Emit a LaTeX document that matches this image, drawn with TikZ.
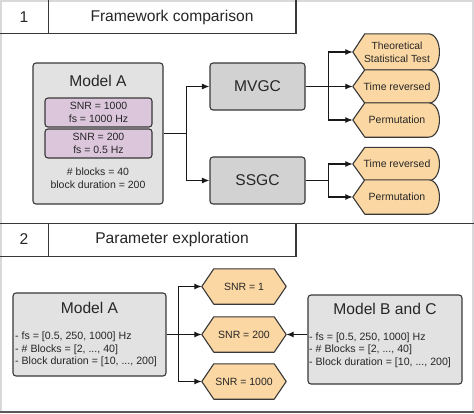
\documentclass[tikz,border=0pt]{standalone}
\usepackage{fontspec}
\setmainfont{Liberation Sans}
\usetikzlibrary{arrows.meta,backgrounds}
\definecolor{boxgray}{HTML}{E2E2E2}
\definecolor{procgray}{HTML}{D2D2D2}
\definecolor{purp}{HTML}{DCC6DC}
\definecolor{orng}{HTML}{FBD7A3}
\definecolor{edgec}{HTML}{383838}
\definecolor{framec}{HTML}{D9D9D9}
\newcommand\dispshape[1]{%
  \draw[shapeline,fill=orng] (#1.west) -- ([xshift=12pt]#1.north west) -- ([xshift=-13pt]#1.north east)
    .. controls ([xshift=2pt]#1.north east) and ([xshift=2pt]#1.south east) .. ([xshift=-13pt]#1.south east)
    -- ([xshift=12pt]#1.south west) -- cycle;}
\newcommand\hexshape[1]{%
  \draw[shapeline,fill=orng] (#1.west) -- ([xshift=12pt]#1.north west) -- ([xshift=-12pt]#1.north east)
    -- (#1.east) -- ([xshift=-12pt]#1.south east) -- ([xshift=12pt]#1.south west) -- cycle;}
\begin{document}
\begin{tikzpicture}[x=1pt,y=-1pt,
  font=\fontsize{10.5}{13}\selectfont, text=black!85,
  shapeline/.style={draw=edgec, line width=1.1pt, line join=round},
  model/.style={draw=edgec, fill=boxgray, rounded corners=3pt, line width=1.1pt, inner sep=0pt},
  proc/.style={draw=edgec, fill=procgray, rounded corners=3pt, line width=1.1pt, inner sep=0pt,
     minimum width=95pt, minimum height=47pt, font=\fontsize{15.6}{18}\selectfont},
  param/.style={draw=edgec, fill=purp, rounded corners=3pt, line width=1.1pt, inner sep=0pt,
     minimum width=107pt, minimum height=29pt, align=center},
  title/.style={font=\fontsize{15.6}{18}\selectfont, inner sep=0pt},
  disp/.style={inner sep=0pt, minimum width=88pt, align=center},
  hexn/.style={inner sep=0pt, minimum width=84pt, minimum height=35pt},
  hdrline/.style={draw=edgec, line width=1.2pt},
  conn/.style={draw=black!90, line width=1.2pt},
  arr/.style={conn, -{Latex[length=7.5pt,width=6pt]}},
]
\useasboundingbox (0,0) rectangle (474,413);
\begin{scope}[on background layer]
  \fill[white] (0,0) rectangle (474,413);
\end{scope}
% frame
\draw[framec, line width=2pt] (1,1) -- (1,412) (473,1) -- (473,412) (0,1) -- (474,1);
\fill[black!65] (0,410.5) rectangle (474,413);

% ---------- section 1 header
\draw[hdrline] (0,33.3) -- (296,33.3) -- (296,0);
\draw[hdrline] (48.3,0) -- (48.3,33.3);
\node[title] (h1n) at (24,17) {1};
\node[title] (h1t) at (172,17) {Framework comparison};

% ---------- section 1 content
\node[model, minimum width=130pt, minimum height=141pt] (mA1) at (98,133.5) {};
\node[title] (mA1t) at (98,81) {Model A};
\node[param] (p1) at (98.5,112.5) {SNR = 1000\\fs = 1000 Hz};
\node[param] (p2) at (98.5,143.5) {SNR = 200\\fs = 0.5 Hz};
\node[inner sep=0pt, align=center] (info1) at (98,178.5) {\# blocks = 40\\block duration = 200};

\node[proc] (mvgc) at (257.5,86.5) {MVGC};
\node[proc] (ssgc) at (257.5,180.5) {SSGC};

\node[disp, minimum height=36pt, font=\fontsize{10.3}{13}\selectfont] (theo) at (397,52) {Theoretical\\Statistical Test};
\node[disp, minimum height=33pt] (tr1) at (397,86.5) {Time reversed};
\node[disp, minimum height=34pt] (perm1) at (397,120) {Permutation};
\node[disp, minimum height=33pt] (tr2) at (397,164) {Time reversed};
\node[disp, minimum height=34pt] (perm2) at (397,197) {Permutation};
\begin{scope}[on background layer]
  \dispshape{theo}\dispshape{tr1}\dispshape{perm1}\dispshape{tr2}\dispshape{perm2}
\end{scope}

\draw[conn] (mA1.east) -- ++(23,0) coordinate (j1);
\draw[arr] (j1) |- (mvgc.west);
\draw[arr] (j1) |- (ssgc.west);
\draw[conn] (mvgc.east) -- ++(23,0) coordinate (j2);
\draw[arr] (j2) |- (theo.west);
\draw[arr] (j2) -- (tr1.west);
\draw[arr] (j2) |- (perm1.west);
\draw[conn] (ssgc.east) -- ++(23,0) coordinate (j3);
\draw[arr] (j3) |- (tr2.west);
\draw[arr] (j3) |- (perm2.west);

% ---------- section 2 header
\draw[hdrline] (0,223.3) -- (474,223.3);
\draw[hdrline] (0,256.3) -- (296,256.3) -- (296,223.3);
\draw[hdrline] (48.3,223.3) -- (48.3,256.3);
\node[title] (h2n) at (24,239.5) {2};
\node[title] (h2t) at (172,239.5) {Parameter exploration};

% ---------- section 2 content
\node[model, minimum width=153pt, minimum height=83pt] (mA2) at (89.5,334.5) {};
\node[title] (mA2t) at (89.5,308) {Model A};
\node[inner sep=0pt, align=left, anchor=west, font=\fontsize{10.6}{12.6}\selectfont] (info2) at (15,349.5)
  {- fs = [0.5, 250, 1000] Hz\\- \# Blocks = [2, ..., 40]\\- Block duration = [10, ..., 200]};

\node[model, minimum width=154pt, minimum height=89pt] (mBC) at (385,339.5) {};
\node[title] (mBCt) at (385,309) {Model B and C};
\node[inner sep=0pt, align=left, anchor=west, font=\fontsize{10.6}{12.6}\selectfont] (info3) at (309,350)
  {- fs = [0.5, 250, 1000] Hz\\- \# Blocks = [2, ..., 40]\\- Block duration = [10, ..., 200]};

\node[hexn] (s1) at (244,286.5) {SNR = 1};
\node[hexn] (s200) at (244,334.5) {SNR = 200};
\node[hexn] (s1000) at (244,381.5) {SNR = 1000};
\begin{scope}[on background layer]
  \hexshape{s1}\hexshape{s200}\hexshape{s1000}
\end{scope}

\draw[arr] (mA2.east) -- (s200.west);
\path (mA2.east) -- ++(12,0) coordinate (j4);
\draw[arr] (j4) |- (s1.west);
\draw[arr] (j4) |- (s1000.west);
\draw[arr] (mBC.west |- s200.east) -- (s200.east);
\end{tikzpicture}
\end{document}
